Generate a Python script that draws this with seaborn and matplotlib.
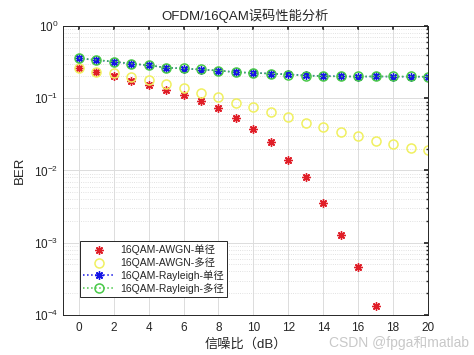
import numpy as np
import pandas as pd
import matplotlib
matplotlib.use("Agg")
import matplotlib.pyplot as plt
import seaborn as sns
from matplotlib.ticker import LogLocator, NullFormatter, FixedLocator

sns.set_theme(style="white")
plt.rcParams['font.family'] = ['Liberation Sans', 'Noto Sans CJK SC', 'DejaVu Sans']
plt.rcParams['mathtext.fontset'] = 'custom'
plt.rcParams['mathtext.rm'] = 'Liberation Sans'

snr = list(range(0, 21))
awgn_single = [0.26, 0.229, 0.203, 0.175, 0.152, 0.13, 0.11, 0.0926, 0.0725, 0.0538,
               0.037, 0.0245, 0.014, 0.00805, 0.00355, 0.00127, 0.000467, 0.000132,
               np.nan, np.nan, np.nan]
awgn_multi = [0.262, 0.232, 0.224, 0.195, 0.179, 0.156, 0.139, 0.119, 0.104, 0.087,
              0.075, 0.0645, 0.0545, 0.0454, 0.0404, 0.0341, 0.0297, 0.0259, 0.0233,
              0.0207, 0.019]
rayleigh_single = [0.355, 0.338, 0.320, 0.300, 0.285, 0.266, 0.257, 0.249, 0.241, 0.230,
                   0.224, 0.219, 0.214, 0.207, 0.203, 0.201, 0.199, 0.200, 0.199,
                   0.199, 0.198]
rayleigh_multi = [0.358, 0.340, 0.322, 0.302, 0.287, 0.264, 0.258, 0.250, 0.242, 0.228,
                  0.225, 0.219, 0.213, 0.205, 0.201, 0.200, 0.200, 0.201, 0.200,
                  0.200, 0.199]
labels = ['16QAM-AWGN-单径', '16QAM-AWGN-多径', '16QAM-Rayleigh-单径', '16QAM-Rayleigh-多径']
title = 'OFDM/16QAM误码性能分析'
xlabel = '信噪比（dB）'
ylabel = 'BER'

fig = plt.figure(figsize=(4.74, 3.55), dpi=100)
ax = fig.add_axes([0.133, 0.1127, 0.770, 0.8141])

text_c = '#262626'
red, yel, blu, grn = '#e01e28', '#f0f060', '#1414e6', '#48c848'
ast = (8, 2, 0)
specs = [
    (awgn_single, dict(color=red, marker=ast, linestyle='', markersize=6,
                       markeredgecolor=red, markeredgewidth=1.0)),
    (awgn_multi, dict(color=yel, marker='o', linestyle='', markersize=6.5,
                      markeredgecolor=yel, markerfacecolor='none', markeredgewidth=1.1)),
    (rayleigh_single, dict(color=blu, marker=ast, linestyle=':', linewidth=1.1,
                           markersize=6, markeredgecolor=blu, markeredgewidth=1.0)),
    (rayleigh_multi, dict(color=grn, marker='o', linestyle=':', linewidth=1.1,
                          markersize=6.5, markerfacecolor='none', markeredgecolor=grn,
                          markeredgewidth=1.1)),
]
for (vals, kw), lab in zip(specs, labels):
    df = pd.DataFrame({'snr': snr, 'ber': vals}).dropna()
    sns.lineplot(data=df, x='snr', y='ber', ax=ax, label=lab, **kw)

ax.set_yscale('log')
ax.set_xlim(-0.9, 20)
ax.set_ylim(1e-4, 1)
ax.xaxis.set_major_locator(FixedLocator(list(range(0, 21, 2))))
ax.yaxis.set_major_locator(LogLocator(base=10, numticks=10))
ax.yaxis.set_minor_locator(LogLocator(base=10, subs=np.arange(2, 10), numticks=20))
ax.yaxis.set_minor_formatter(NullFormatter())
ax.grid(True, which='major', color='#dcdcdc', linewidth=0.7, linestyle='-')
ax.grid(True, which='minor', axis='y', color='#d8d8d8', linewidth=0.6, linestyle=':')
ax.tick_params(which='both', direction='in', top=True, right=True, colors=text_c,
               labelsize=8.5, length=3)
ax.tick_params(axis='x', pad=5)
ax.tick_params(which='minor', length=1.8)
for s in ax.spines.values():
    s.set_color('#262626')
    s.set_linewidth(0.7)

ax.set_title(title, fontsize=9.5, color=text_c, pad=4)
ax.set_xlabel(xlabel, fontsize=9.5, color=text_c, labelpad=3)
ax.set_ylabel(ylabel, fontsize=9.5, color=text_c, labelpad=6)

leg = ax.legend(loc='lower left', bbox_to_anchor=(0.047, 0.062), borderaxespad=0,
                fontsize=7.5, frameon=True, fancybox=False, edgecolor='#262626',
                framealpha=1, handlelength=3.0, borderpad=0.3, labelspacing=0.2,
                handletextpad=0.5)
leg.get_frame().set_linewidth(0.7)

fig.text(0.99, 0.015, 'CSDN @fpga和matlab', ha='right', va='bottom', fontsize=10,
         color='#c8c8c8')

fig.savefig('out.png', dpi=100)
